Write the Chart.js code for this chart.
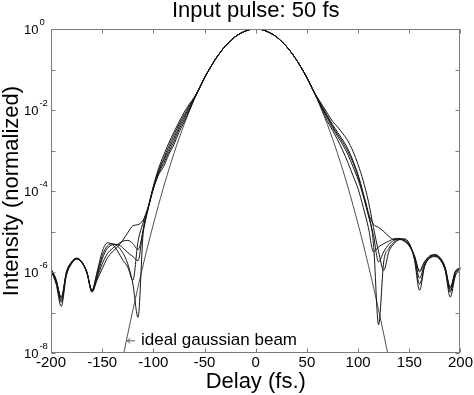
<!DOCTYPE html>
<html>
<head>
<meta charset="utf-8">
<script src="https://cdn.jsdelivr.net/npm/chart.js@4.4.1/dist/chart.umd.min.js"></script>
<style>
  html, body { margin: 0; padding: 0; background: #fff; }
  #wrap { width: 474px; height: 395px; }
</style>
</head>
<body>
<div id="wrap"><canvas id="pulseChart" width="474" height="395"></canvas></div>
<script>
// Delay grid (fs), shared by every trace
const delays = [-200,-195,-190,-185,-180,-175,-170,-165,-160,-155,-150,-145,-140,-135,-130,-125,-120,-115,-110,-105,
  -100,-95,-90,-85,-80,-75,-70,-65,-60,-55,-50,-45,-40,-35,-30,-25,-20,-15,-10,-5,0,5,10,15,20,25,30,35,40,45,50,55,
  60,65,70,75,80,85,90,95,100,105,110,115,120,125,130,135,140,145,150,155,160,165,170,175,180,185,190,195,200];

// Intensity, stored as decade exponents (log10 I)
// central part (-55 .. 55 fs), identical for all traces
const coreExp = [-1.46,-1.2,-0.98,-0.77,-0.59,-0.43,-0.3,-0.19,-0.11,-0.05,-0.01,0,
  -0.01,-0.05,-0.11,-0.19,-0.3,-0.43,-0.59,-0.77,-0.98,-1.2,-1.46];

// left wing (-200 .. -60 fs)
const left1 = [-5.97,-6.3,-6.85,-6.1,-5.8,-5.68,-5.76,-6.02,-6.45,-6.0,-5.5,-5.28,-5.32,-5.48,-5.7,-5.88,-6.2,-5.25,-4.78,-4.38,-3.88,-3.45,-3.12,-2.82,-2.55,-2.3,-2.06,-1.86,-1.68];
const left2 = [-5.95,-6.25,-6.75,-6.05,-5.78,-5.67,-5.75,-6.0,-6.45,-6.05,-5.6,-5.36,-5.3,-5.36,-5.52,-5.8,-6.3,-7.12,-5.05,-4.42,-3.9,-3.5,-3.2,-2.9,-2.62,-2.36,-2.12,-1.9,-1.7];
const left3 = [-5.93,-6.2,-6.7,-6.02,-5.76,-5.66,-5.75,-6.0,-6.48,-6.1,-5.68,-5.42,-5.33,-5.32,-5.4,-5.52,-5.62,-5.72,-4.95,-4.42,-3.92,-3.54,-3.25,-2.97,-2.7,-2.42,-2.18,-1.94,-1.71];
const left4 = [-5.92,-6.18,-6.65,-6.0,-5.75,-5.66,-5.74,-6.0,-6.48,-6.15,-5.8,-5.55,-5.42,-5.32,-5.24,-5.22,-5.3,-5.45,-5.0,-4.42,-3.94,-3.58,-3.32,-3.04,-2.78,-2.48,-2.24,-1.98,-1.72];
const left5 = [-5.95,-6.22,-6.62,-6.05,-5.78,-5.68,-5.77,-6.02,-6.5,-6.2,-5.92,-5.66,-5.5,-5.38,-5.22,-5.03,-4.86,-4.83,-4.72,-4.4,-3.95,-3.6,-3.4,-3.1,-2.86,-2.55,-2.3,-2.02,-1.73];

// right wing (60 .. 200 fs)
const right1 = [-1.68,-1.88,-2.08,-2.28,-2.42,-2.58,-2.76,-3.02,-3.35,-3.75,-4.25,-4.9,-5.5,-5.96,-5.5,-5.3,-5.2,-5.18,-5.3,-5.7,-6.45,-5.85,-5.65,-5.6,-5.68,-5.95,-6.62,-6.1,-5.92];
const right2 = [-1.7,-1.92,-2.14,-2.36,-2.55,-2.74,-2.96,-3.25,-3.6,-4.05,-4.55,-5.3,-7.3,-5.75,-5.42,-5.27,-5.2,-5.2,-5.3,-5.65,-6.3,-5.85,-5.66,-5.62,-5.7,-5.95,-6.5,-6.05,-5.92];
const right3 = [-1.71,-1.96,-2.2,-2.44,-2.65,-2.86,-3.1,-3.4,-3.72,-4.12,-4.6,-5.1,-5.75,-5.5,-5.32,-5.22,-5.18,-5.22,-5.33,-5.62,-6.15,-5.8,-5.64,-5.6,-5.68,-5.92,-6.45,-6.02,-5.9];
const right4 = [-1.72,-2.0,-2.28,-2.5,-2.74,-3.0,-3.3,-3.62,-3.95,-4.4,-4.9,-5.5,-5.38,-5.3,-5.24,-5.18,-5.17,-5.22,-5.35,-5.6,-6.0,-5.75,-5.62,-5.58,-5.66,-5.9,-6.37,-6.0,-5.9];
const right5 = [-1.71,-1.94,-2.17,-2.4,-2.6,-2.8,-3.02,-3.3,-3.65,-4.1,-4.55,-4.82,-4.9,-5.0,-5.12,-5.2,-5.19,-5.24,-5.36,-5.6,-5.96,-5.74,-5.6,-5.57,-5.64,-5.88,-6.4,-5.98,-5.9];

// ideal gaussian beam (no wings, runs out of the frame near +-130 fs)
const idealExp = [null,null,null,null,null,null,null,null,null,null,null,null,null,null,
  -8.14,-7.53,-6.94,-6.37,-5.83,-5.31,-4.82,-4.35,-3.9,-3.48,-3.08,-2.71,-2.36,-2.04,-1.73,
  -1.46,-1.2,-0.98,-0.77,-0.59,-0.43,-0.3,-0.19,-0.11,-0.05,-0.01,0,-0.01,-0.05,-0.11,-0.19,-0.3,-0.43,-0.59,-0.77,-0.98,-1.2,-1.46,
  -1.73,-2.04,-2.36,-2.71,-3.08,-3.48,-3.9,-4.35,-4.82,-5.31,-5.83,-6.37,-6.94,-7.53,-8.14,
  null,null,null,null,null,null,null,null,null,null,null,null,null,null];

// axis ticks
const xTicks = [-200, -150, -100, -50, 0, 50, 100, 150, 200];
const yLabelExps = [0, -2, -4, -6, -8];
const yMarkExps = [0, -1, -2, -3, -4, -5, -6, -7, -8];

const FONT = "'Liberation Sans', Arial, Helvetica, sans-serif";

const toPoints = exps => delays.map((d, i) => ({ x: d, y: exps[i] === null ? null : Math.pow(10, exps[i]) }));

const traces = [
  left1.concat(coreExp, right1),
  left2.concat(coreExp, right2),
  left3.concat(coreExp, right3),
  left4.concat(coreExp, right4),
  left5.concat(coreExp, right5)
];

const datasets = traces.map((t, i) => ({
  label: 'trace ' + (i + 1),
  data: toPoints(t),
  borderColor: '#161616',
  borderWidth: 1,
  pointRadius: 0,
  cubicInterpolationMode: 'monotone',
  fill: false
}));
datasets.push({
  label: 'ideal gaussian beam',
  data: toPoints(idealExp),
  borderColor: '#3c3c3c',
  borderWidth: 0.9,
  pointRadius: 0,
  cubicInterpolationMode: 'monotone',
  fill: false
});

// frame, inward ticks, superscript decade labels, titles and the annotation
const framePlugin = {
  id: 'frame',
  afterDraw(chart) {
    const { ctx, chartArea: a, scales: { x, y } } = chart;
    const L = Math.round(a.left) + 0.5, R = Math.round(a.right) - 0.5;
    const T = Math.round(a.top) + 0.5, B = Math.round(a.bottom) - 0.5;
    ctx.save();
    ctx.strokeStyle = '#7c7c7c';
    ctx.lineWidth = 1;
    ctx.strokeRect(L, T, R - L, B - T);

    ctx.beginPath();
    xTicks.forEach(v => {
      const px = Math.round(x.getPixelForValue(v)) + 0.5;
      ctx.moveTo(px, B); ctx.lineTo(px, B - 4);
      ctx.moveTo(px, T); ctx.lineTo(px, T + 4);
    });
    yMarkExps.forEach(e => {
      const py = Math.round(y.getPixelForValue(Math.pow(10, e))) + 0.5;
      ctx.moveTo(L, py); ctx.lineTo(L + 4, py);
      ctx.moveTo(R, py); ctx.lineTo(R - 4, py);
    });
    ctx.stroke();

    ctx.fillStyle = '#000';
    ctx.textBaseline = 'alphabetic';
    yLabelExps.forEach(e => {
      const py = y.getPixelForValue(Math.pow(10, e));
      ctx.font = '13px ' + FONT;
      ctx.textAlign = 'left';
      ctx.fillText('10', 24, py + 5);
      const w = ctx.measureText('10').width;
      ctx.font = '9.5px ' + FONT;
      ctx.fillText(e === 0 ? '0' : '-' + Math.abs(e), 24 + w + 1, py - 4);
    });

    const cx = (a.left + a.right) / 2;
    ctx.font = '22px ' + FONT;
    ctx.textAlign = 'center';
    ctx.fillText('Input pulse: 50 fs', cx, 17);
    ctx.fillText('Delay (fs.)', cx, 388);

    ctx.save();
    ctx.translate(18, (a.top + a.bottom) / 2);
    ctx.rotate(-Math.PI / 2);
    ctx.fillText('Intensity (normalized)', 0, 0);
    ctx.restore();

    // annotation pointing at the gaussian
    const ay = y.getPixelForValue(Math.pow(10, -7.7));
    const ax0 = x.getPixelForValue(-118), ax1 = x.getPixelForValue(-125.5);
    ctx.strokeStyle = '#555';
    ctx.beginPath();
    ctx.moveTo(ax0, ay); ctx.lineTo(ax1, ay);
    ctx.moveTo(ax1 + 3, ay - 2.5); ctx.lineTo(ax1, ay); ctx.lineTo(ax1 + 3, ay + 2.5);
    ctx.stroke();
    ctx.font = '17px ' + FONT;
    ctx.textAlign = 'left';
    ctx.fillText('ideal gaussian beam', x.getPixelForValue(-112), y.getPixelForValue(Math.pow(10, -7.8)));
    ctx.restore();
  }
};

new Chart(document.getElementById('pulseChart').getContext('2d'), {
  type: 'line',
  data: { datasets },
  options: {
    responsive: false,
    animation: false,
    events: [],
    layout: { padding: { left: 0, right: 12, top: 29, bottom: 0 } },
    plugins: { legend: { display: false }, tooltip: { enabled: false }, title: { display: false } },
    scales: {
      x: {
        type: 'linear',
        min: -200,
        max: 200,
        afterBuildTicks: scale => { scale.ticks = xTicks.map(v => ({ value: v })); },
        afterFit: scale => { scale.height = 42; },
        grid: { display: false, drawTicks: false },
        border: { display: false },
        ticks: { color: '#000', padding: 1, maxRotation: 0, font: { size: 15, family: FONT } }
      },
      y: {
        type: 'logarithmic',
        min: 1e-8,
        max: 1,
        afterFit: scale => { scale.width = 51; },
        grid: { display: false, drawTicks: false },
        border: { display: false },
        ticks: { display: false }
      }
    }
  },
  plugins: [framePlugin]
});
</script>
</body>
</html>
